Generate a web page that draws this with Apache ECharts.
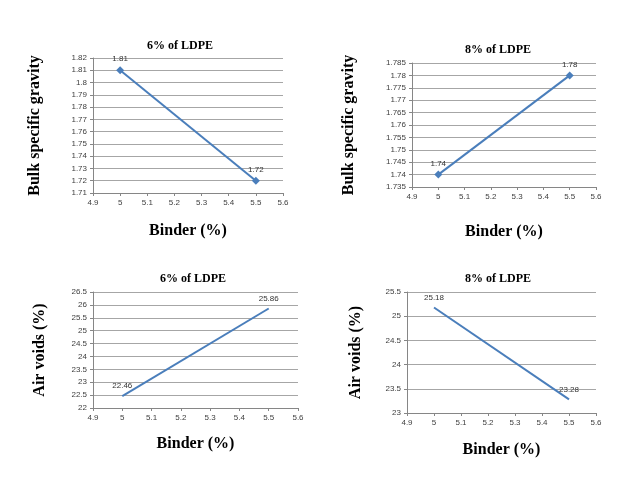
<!DOCTYPE html>
<html>
<head>
<meta charset="utf-8">
<script src="https://cdn.jsdelivr.net/npm/echarts@6/dist/echarts.min.js"></script>
<style>
html,body{margin:0;padding:0;background:#fff;}
#c{width:638px;height:478px;}
</style>
</head>
<body>
<div id="c"></div>
<script>
const binder = [5, 5.5];
const gsb6 = [1.81, 1.72];
const gsb8 = [1.74, 1.78];
const av6 = [22.46, 25.86];
const av8 = [25.18, 23.28];
const titles = ['6% of LDPE', '8% of LDPE', '6% of LDPE', '8% of LDPE'];
const yNames = ['Bulk specific gravity', 'Bulk specific gravity', 'Air voids (%)', 'Air voids (%)'];
const xName = 'Binder (%)';

const grids = [
  {left: 93, top: 58, width: 190, height: 135},
  {left: 412, top: 63, width: 184, height: 124},
  {left: 93, top: 292, width: 205, height: 116},
  {left: 407, top: 292, width: 189, height: 121}
];
const yRanges = [
  {min: 1.71, max: 1.82, interval: 0.01},
  {min: 1.735, max: 1.785, interval: 0.005},
  {min: 22, max: 26.5, interval: 0.5},
  {min: 23, max: 25.5, interval: 0.5}
];
const yNameGap = [50, 55, 45, 43];
const xNameGap = [30, 37, 28, 29];
const titlePos = [[175, 35], [493, 39], [188, 268], [493, 268]];
const seriesData = [gsb6, gsb8, av6, av8];
const markers = [true, true, false, false];

const axisLineStyle = {color: '#868686', width: 1};
const gridColor = '#a6a6a6';
const labelStyle = {fontFamily: 'Liberation Sans', fontSize: 8, color: '#404040'};
const nameStyle = {fontFamily: 'Liberation Serif', fontSize: 16, fontWeight: 'bold', color: '#000'};

const option = {
  backgroundColor: '#fff',
  animation: false,
  title: titles.map((t, i) => ({
    text: t, left: titlePos[i][0], top: titlePos[i][1], textAlign: 'center',
    textStyle: {fontFamily: 'Liberation Serif', fontSize: 12, fontWeight: 'bold', color: '#000'}
  })),
  grid: grids,
  xAxis: grids.map((g, i) => ({
    type: 'value', gridIndex: i, min: 4.9, max: 5.6, interval: 0.1,
    name: xName, nameLocation: 'middle', nameGap: xNameGap[i], nameTextStyle: nameStyle,
    axisLine: {show: true, lineStyle: axisLineStyle},
    axisTick: {show: true, length: 3, lineStyle: axisLineStyle},
    axisLabel: Object.assign({margin: 6}, labelStyle),
    splitLine: {show: false}
  })),
  yAxis: grids.map((g, i) => ({
    type: 'value', gridIndex: i, min: yRanges[i].min, max: yRanges[i].max, interval: yRanges[i].interval,
    name: yNames[i], nameLocation: 'middle', nameGap: yNameGap[i], nameTextStyle: nameStyle,
    axisLine: {show: true, lineStyle: axisLineStyle},
    axisTick: {show: true, length: 3, lineStyle: axisLineStyle},
    axisLabel: Object.assign({margin: 6}, labelStyle),
    splitLine: {show: true, lineStyle: {color: gridColor, width: 1}}
  })),
  series: seriesData.map((d, i) => ({
    type: 'line', xAxisIndex: i, yAxisIndex: i,
    data: binder.map((x, k) => [x, d[k]]),
    symbol: 'diamond',
    symbolSize: markers[i] ? 8 : 0,
    showSymbol: true,
    lineStyle: {color: '#4a7ebb', width: 2},
    itemStyle: {color: '#4a7ebb'},
    label: {show: true, position: 'top', distance: markers[i] ? 3 : 6, fontFamily: 'Liberation Sans', fontSize: 8, color: '#333',
      formatter: p => String(p.value[1])}
  }))
};
const chart = echarts.init(document.getElementById('c'), null, {renderer: 'canvas'});
chart.setOption(option);
</script>
</body>
</html>
